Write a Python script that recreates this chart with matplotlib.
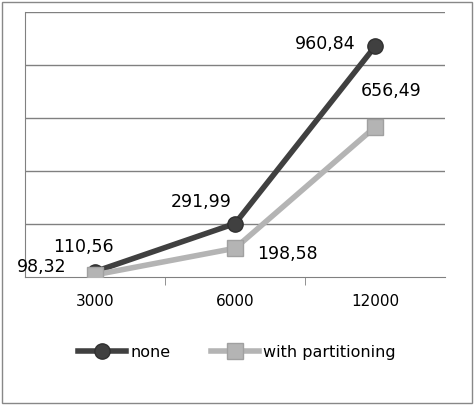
import matplotlib
matplotlib.use("Agg")
import matplotlib.pyplot as plt
from matplotlib.patches import Rectangle

categories = ["3000", "6000", "12000"]
none_vals = [110.56, 291.99, 960.84]
part_vals = [98.32, 198.58, 656.49]
none_labels = ["110,56", "291,99", "960,84"]
part_labels = ["98,32", "198,58", "656,49"]

fig = plt.figure(figsize=(4.74, 4.05), dpi=100)
fig.patches.append(Rectangle((0.004, 0.004), 0.992, 0.99, transform=fig.transFigure,
                             fill=False, edgecolor="#888888", lw=1))
ax = fig.add_axes([0.053, 0.316, 0.886, 0.654])
x = range(len(categories))
ax.plot(x, none_vals, color="#404040", lw=4, marker="o", ms=11,
        markerfacecolor="#404040", markeredgecolor="#303030", label="none", zorder=3)
ax.plot(x, part_vals, color="#b4b4b4", lw=4, marker="s", ms=11,
        markerfacecolor="#b4b4b4", markeredgecolor="#a0a0a0", label="with partitioning", zorder=4)
ax.set_xlim(-0.5, 2.5)
ax.set_ylim(90, 1090)
ax.set_yticks([290, 490, 690, 890, 1090])
ax.yaxis.grid(True, color="#808080", lw=1)
ax.tick_params(axis="y", length=0, labelleft=False)
ax.set_xticks(list(x))
ax.set_xticklabels(categories, fontsize=11)
ax.set_xticks([0.5, 1.5], minor=True)
ax.tick_params(axis="x", which="major", length=0, pad=12)
ax.tick_params(axis="x", which="minor", length=6, color="#808080")
for s in ["top", "right"]:
    ax.spines[s].set_visible(False)
ax.spines["left"].set_color("#808080")
ax.spines["bottom"].set_color("#808080")

fs = 12.5
ax.annotate(none_labels[0], (0, none_vals[0]), xytext=(-30, 14), textcoords="offset points", fontsize=fs)
ax.annotate(part_labels[0], (0, part_vals[0]), xytext=(-56, 2), textcoords="offset points", fontsize=fs)
ax.annotate(none_labels[1], (1, none_vals[1]), xytext=(-46, 12), textcoords="offset points", fontsize=fs)
ax.annotate(part_labels[1], (1, part_vals[1]), xytext=(16, -8), textcoords="offset points", fontsize=fs)
ax.annotate(none_labels[2], (2, none_vals[2]), xytext=(-58, -2), textcoords="offset points", fontsize=fs)
ax.annotate(part_labels[2], (2, part_vals[2]), xytext=(-10, 22), textcoords="offset points", fontsize=fs)

fig.legend(loc="center", bbox_to_anchor=(0.5, 0.13), ncol=2, frameon=False,
           fontsize=11.5, handlelength=3, columnspacing=2.5, handletextpad=0.3)
fig.savefig("out.png", dpi=100)
